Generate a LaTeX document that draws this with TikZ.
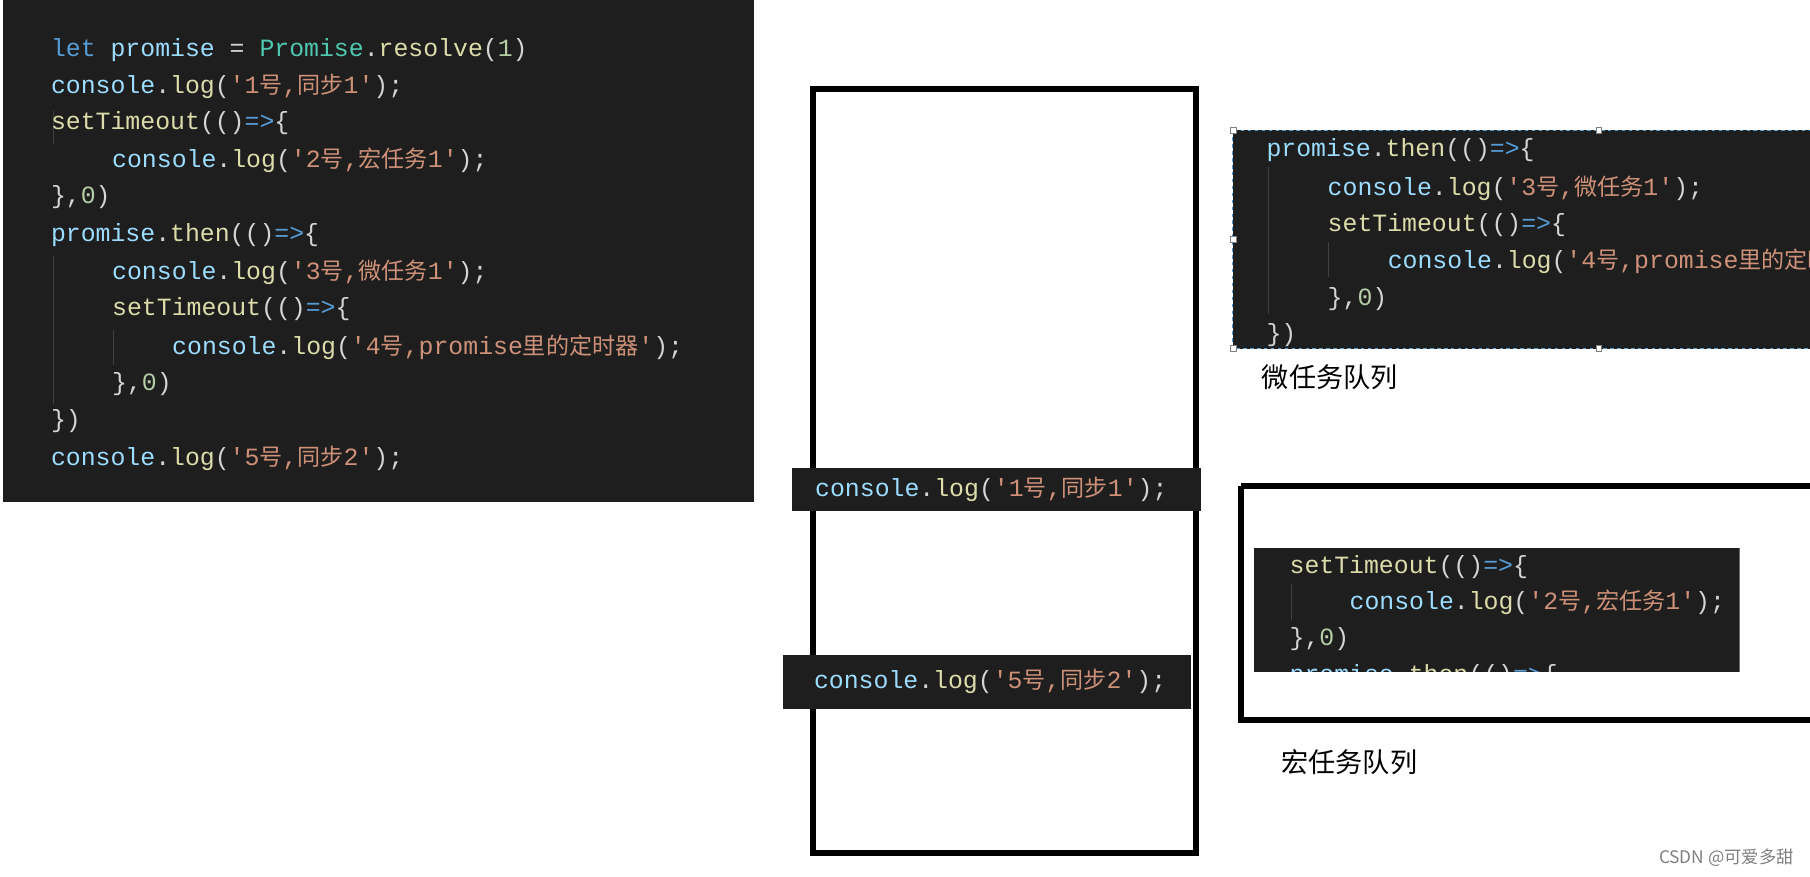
\documentclass[tikz,border=0pt]{standalone}
\usepackage{fontspec}
\setmonofont{Liberation Mono}
\newfontfamily\cjkf{Noto Sans CJK SC}
\definecolor{bgd}{HTML}{1E1E1E}
\definecolor{ckw}{HTML}{569CD6}
\definecolor{cvr}{HTML}{9CDCFE}
\definecolor{cfn}{HTML}{DCDCAA}
\definecolor{cst}{HTML}{CE9178}
\definecolor{cnm}{HTML}{B5CEA8}
\definecolor{ccl}{HTML}{4EC9B0}
\definecolor{cpl}{HTML}{D4D4D4}
\definecolor{guide}{HTML}{404040}
\newcommand\Kw[1]{\textcolor{ckw}{#1}}
\newcommand\Vr[1]{\textcolor{cvr}{#1}}
\newcommand\Fn[1]{\textcolor{cfn}{#1}}
\newcommand\St[1]{\textcolor{cst}{#1}}
\newcommand\Nm[1]{\textcolor{cnm}{#1}}
\newcommand\Cl[1]{\textcolor{ccl}{#1}}
\newcommand\Cj[1]{{\cjkf\fontsize{20}{22}\selectfont #1}}
\newcommand\LogL[1]{\Vr{console}.\Fn{log}(\St{'#1'});}
\newcommand\SetT{\Fn{setTimeout}(()\Kw{=>}\{}
\newcommand\Then{\Vr{promise}.\Fn{then}(()\Kw{=>}\{}
\tikzset{code/.style={anchor=west,inner sep=0pt,text=cpl,font=\ttfamily\fontsize{21.5}{24}\selectfont},
 cn/.style={anchor=west,inner sep=0pt,font=\fontsize{23.5}{26}\selectfont},
 box/.style={draw=black,line width=5pt}}
\begin{document}
\begin{tikzpicture}[x=1pt,y=-1pt]
\fill[white] (0,0) rectangle (1568,759);
\useasboundingbox (0,0) rectangle (1568,759);
% main code panel
\fill[bgd] (3,0) rectangle (653,435);
\draw[guide,line width=1pt] (46,96) -- (46,125) (46,222) -- (46,350) (98,286) -- (98,316);
\node[code] (l1) at (44,43) {\Kw{let} \Vr{promise} = \Cl{Promise}.\Fn{resolve}(\Nm{1})};
\node[code] (l2) at (44,75) {\LogL{1\Cj{号},\Cj{同步}1}};
\node[code] (l3) at (44,107) {\SetT};
\node[code] (l4) at (97,139) {\LogL{2\Cj{号},\Cj{宏任务}1}};
\node[code] (l5) at (44,171) {\},\Nm{0})};
\node[code] (l6) at (44,204) {\Then};
\node[code] (l7) at (97,236) {\LogL{3\Cj{号},\Cj{微任务}1}};
\node[code] (l8) at (97,268) {\SetT};
\node[code] (l9) at (149,301) {\LogL{4\Cj{号},promise\Cj{里的定时器}}};
\node[code] (l10) at (97,333) {\},\Nm{0})};
\node[code] (l11) at (44,365) {\})};
\node[code] (l12) at (44,397) {\LogL{5\Cj{号},\Cj{同步}2}};
% call stack
\draw[box] (704,77) rectangle (1036,739);
\fill[bgd] (686,405) rectangle (1040,443);
\node[code] (s1) at (706,424) {\LogL{1\Cj{号},\Cj{同步}1}};
\fill[bgd] (678,567) rectangle (1032,614);
\node[code] (s5) at (705,590) {\LogL{5\Cj{号},\Cj{同步}2}};
% micro queue
\begin{scope}
\clip (1060,105) rectangle (1568,310);
\fill[bgd] (1068,113) rectangle (1580,302);
\draw[guide,line width=1pt] (1099,145) -- (1099,272) (1151,210) -- (1151,240);
\node[code] (m1) at (1097,130) {\Then};
\node[code] (m2) at (1150,163) {\LogL{3\Cj{号},\Cj{微任务}1}};
\node[code] (m3) at (1150,195) {\SetT};
\node[code] (m4) at (1202,226) {\LogL{4\Cj{号},promise\Cj{里的定时器}}};
\node[code] (m5) at (1150,259) {\},\Nm{0})};
\node[code] (m6) at (1097,290) {\})};
\draw[ckw,dashed,line width=0.8pt] (1068,113) rectangle (1580,302);
\foreach \p in {(1068,113),(1385,113),(1068,207),(1068,302),(1385,302)}
  \draw[gray,fill=white] \p ++(-2.5,-2.5) rectangle ++(5,5);
\end{scope}
\node[cn] (micro) at (1093,327) {\cjkf 微任务队列};
% macro queue
\draw[box] (1075,421) -- (1575,421) (1075,421) -- (1075,624) -- (1575,624);
\begin{scope}
\clip (1086,475) rectangle (1507,582);
\fill[bgd] (1086,475) rectangle (1507,582);
\draw[guide,line width=1pt] (1119,506) -- (1119,537);
\node[code] (a1) at (1117,491) {\SetT};
\node[code] (a2) at (1169,522) {\LogL{2\Cj{号},\Cj{宏任务}1}};
\node[code] (a3) at (1117,554) {\},\Nm{0})};
\node[code] (a4) at (1117,586) {\Then};
\end{scope}
\node[cn] (macro) at (1110,660) {\cjkf 宏任务队列};
\node[anchor=west,inner sep=0pt,text=gray,font=\cjkf\fontsize{15}{17}\selectfont] (wm) at (1437,743) {CSDN @可爱多甜};
\end{tikzpicture}
\end{document}
